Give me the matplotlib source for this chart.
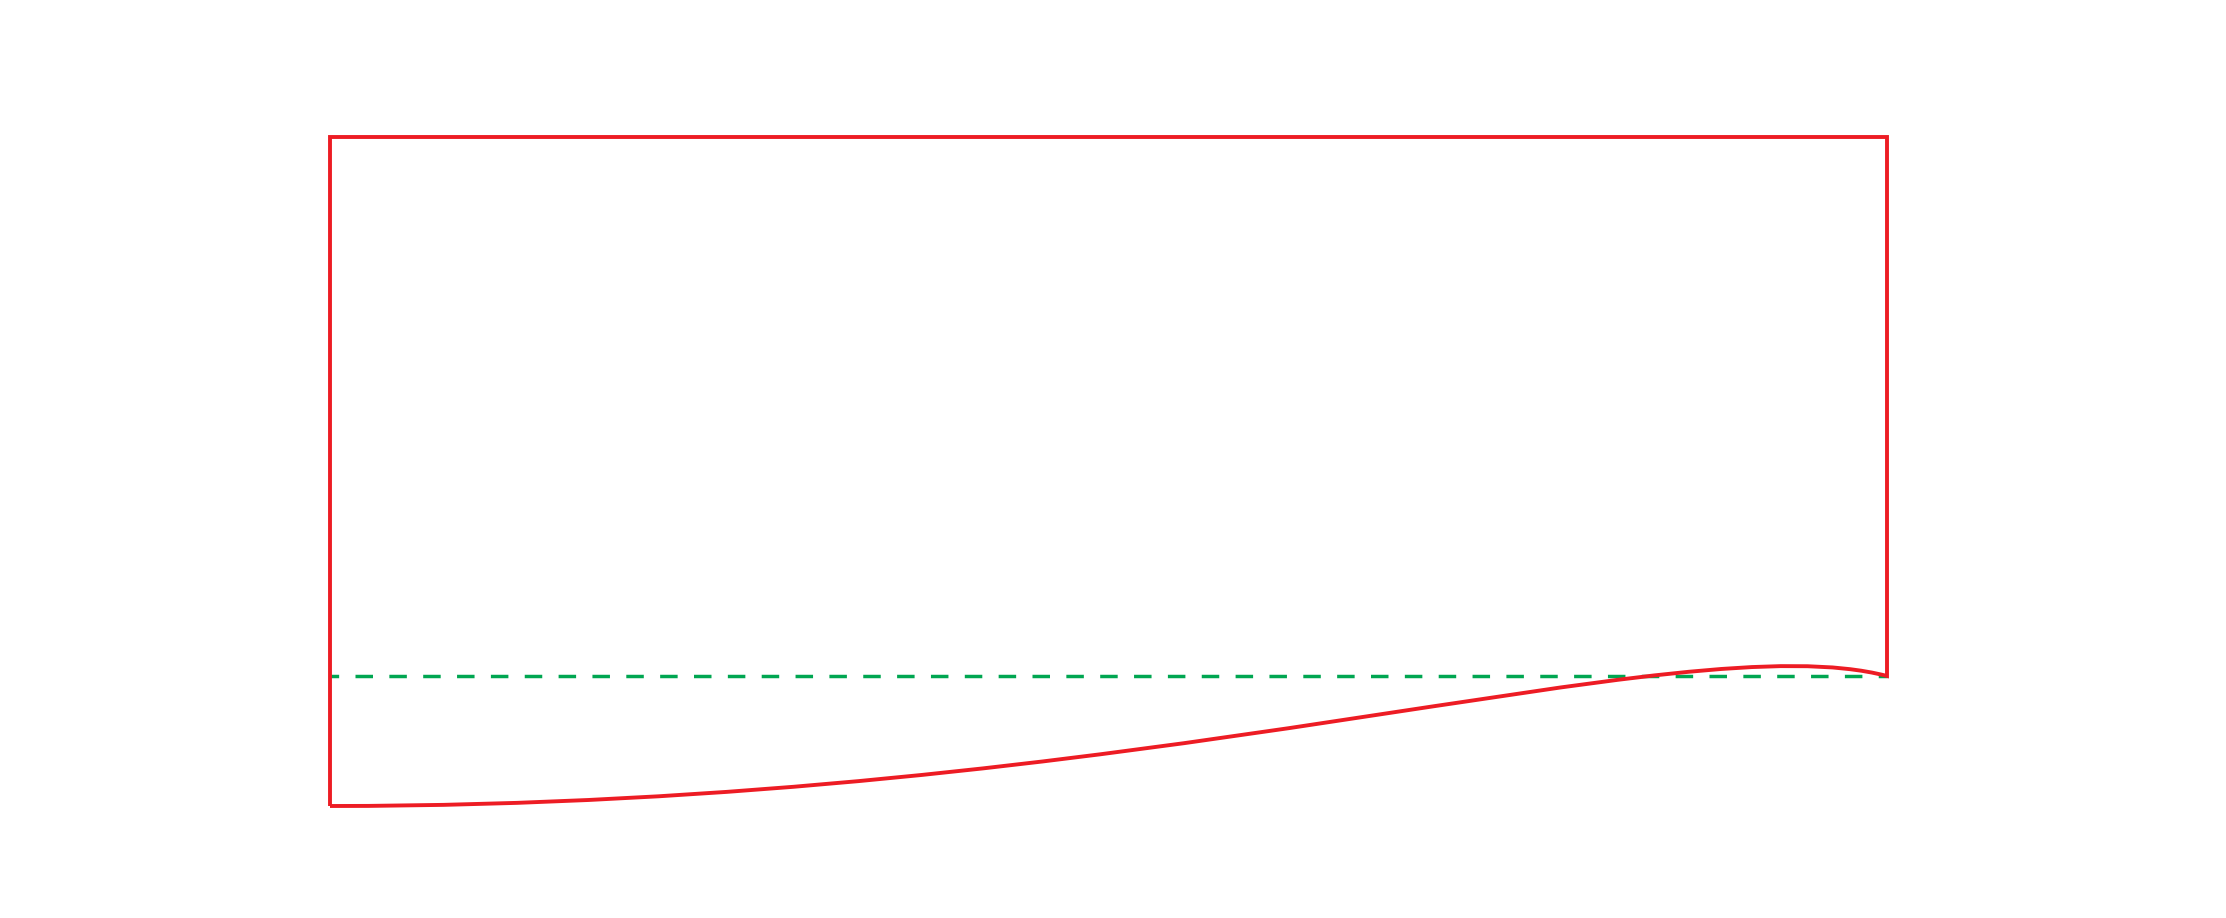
import matplotlib
matplotlib.use("Agg")
import matplotlib.pyplot as plt
from matplotlib.path import Path
from matplotlib.patches import PathPatch

# canvas size in pixels
W, H = 2226, 918

# outline: left edge up, across the top, down the right edge
OUTLINE_X = [330, 330, 1887, 1887]
OUTLINE_Y = [806, 137, 137, 676]

# bezier control points for the curve closing the shape (right -> left)
CURVE_X = [1887, 1680, 1150, 330]
CURVE_Y = [676, 622, 806, 806]

# dashed reference line
REF_X = [330, 1887]
REF_Y = 675.8

RED = "#ED1C24"
GREEN = "#00A651"

plt.rcParams["lines.scale_dashes"] = False

fig = plt.figure(figsize=(W / 100, H / 100), dpi=100)
ax = fig.add_axes([0, 0, 1, 1])
ax.set_xlim(0, W)
ax.set_ylim(H, 0)
ax.axis("off")

# dashed green line (drawn first, red goes on top); dash sizes in px -> pt
px = 100 / 72
ax.plot(REF_X, [REF_Y, REF_Y], color=GREEN, linewidth=2.5,
        linestyle=(8.85 / px, (17.5 / px, 16.35 / px)),
        dash_capstyle="butt", zorder=2)

verts = list(zip(OUTLINE_X, OUTLINE_Y)) + list(zip(CURVE_X[1:], CURVE_Y[1:]))
codes = ([Path.MOVETO] + [Path.LINETO] * (len(OUTLINE_X) - 1)
         + [Path.CURVE4] * (len(CURVE_X) - 1))
patch = PathPatch(Path(verts, codes), facecolor="none", edgecolor=RED,
                  linewidth=2.8, joinstyle="miter", zorder=3)
ax.add_patch(patch)

fig.savefig("out.png", dpi=100, facecolor="white")
